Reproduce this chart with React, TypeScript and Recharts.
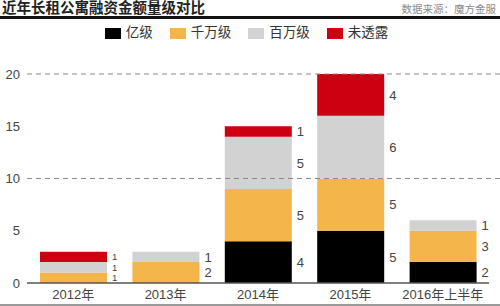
import { BarChart, Bar, XAxis, YAxis, LabelList, ReferenceLine } from "recharts";

const years = ["2012年", "2013年", "2014年", "2015年", "2016年上半年"];
const yi = [0, 0, 4, 5, 2];
const qianwan = [1, 2, 5, 5, 3];
const baiwan = [1, 1, 5, 6, 1];
const weitoulu = [1, 0, 1, 4, 0];
const yTicks = [0, 5, 10, 15, 20];
const gridValues = [10, 20];

const series = [
  { key: "yi", name: "亿级", color: "#000000", values: yi },
  { key: "qianwan", name: "千万级", color: "#F4B54A", values: qianwan },
  { key: "baiwan", name: "百万级", color: "#D2D2D2", values: baiwan },
  { key: "weitoulu", name: "未透露", color: "#CC0010", values: weitoulu },
];

const data = years.map((y, i) => {
  const row: Record<string, any> = { year: y };
  series.forEach((s) => (row[s.key] = s.values[i]));
  // several one-unit segments stacked on each other -> labels need to be smaller
  row.crowded = series.filter((s) => s.values[i] === 1).length > 1;
  return row;
});

const FONT = '"Liberation Sans", Arial, "Noto Sans CJK SC", sans-serif';

// dashed grid, runs past the plot to the right edge like the original
const DashLine = (props: any) => (
  <line
    x1={props.x1}
    y1={props.y1}
    x2={500}
    y2={props.y2}
    stroke="#8a8a8a"
    strokeWidth={1}
    strokeDasharray="5 4"
  />
);

const SegmentLabel = (props: any) => {
  const { x, y, width, height, value } = props;
  if (!value) return null;
  const str = String(value);
  const small = str.endsWith("s");
  return (
    <text
      x={x + width + 5}
      y={y + height / 2}
      dy="0.36em"
      fontSize={small ? 9.5 : 13}
      fill="#444"
      fontFamily={FONT}
    >
      {small ? str.slice(0, -1) : str}
    </text>
  );
};

export default function App() {
  return (
    <div
      style={{
        position: "fixed",
        left: 0,
        top: 0,
        width: 500,
        height: 306,
        background: "#fff",
        fontFamily: FONT,
        overflow: "hidden",
      }}
    >
      <div
        style={{
          position: "absolute",
          left: 2,
          top: 0,
          fontSize: 14.5,
          fontWeight: "bold",
          color: "#222",
          lineHeight: "17px",
        }}
      >
        近年长租公寓融资金额量级对比
      </div>
      <div
        style={{
          position: "absolute",
          right: 4,
          top: 2,
          fontSize: 10.5,
          color: "#8a8a8a",
          lineHeight: "14px",
        }}
      >
        数据来源：魔方金服
      </div>
      <div style={{ position: "absolute", left: 0, top: 16, width: 500, height: 3, background: "#111" }} />
      <div
        style={{
          position: "absolute",
          left: 0,
          top: 25,
          width: 500,
          display: "flex",
          justifyContent: "center",
          paddingLeft: 10,
          boxSizing: "border-box",
        }}
      >
        {series.map((s) => (
          <div key={s.key} style={{ display: "flex", alignItems: "center", marginRight: 17 }}>
            <span style={{ width: 16, height: 11, background: s.color, display: "inline-block", marginRight: 5 }} />
            <span style={{ fontSize: 13.5, color: "#333", lineHeight: "16px" }}>{s.name}</span>
          </div>
        ))}
      </div>
      <div style={{ position: "absolute", left: 0, top: 0 }}>
        <BarChart
          width={500}
          height={306}
          data={data}
          margin={{ top: 74, right: 11, bottom: 0, left: 0 }}
        >
          {gridValues.map((v) => (
            <ReferenceLine key={v} y={v} shape={DashLine} />
          ))}
          <XAxis
            dataKey="year"
            height={23}
            tickLine={false}
            tickSize={0}
            tickMargin={7}
            axisLine={{ stroke: "#555", strokeWidth: 1.5 }}
            tick={{ fontSize: 13, fill: "#444", fontFamily: FONT }}
            interval={0}
          />
          <YAxis
            width={27}
            domain={[0, 20]}
            ticks={yTicks}
            axisLine={false}
            tickLine={false}
            tickSize={0}
            tickMargin={7}
            tick={{ fontSize: 13, fill: "#444", fontFamily: FONT }}
          />
          {series.map((s) => (
            <Bar
              key={s.key}
              dataKey={s.key}
              name={s.name}
              stackId="a"
              fill={s.color}
              barSize={67}
              isAnimationActive={false}
            >
              <LabelList
                dataKey={(row: any) => (row[s.key] ? `${row[s.key]}${row.crowded ? "s" : ""}` : "")}
                content={SegmentLabel}
              />
            </Bar>
          ))}
        </BarChart>
      </div>
      <div style={{ position: "absolute", left: 0, top: 304, width: 500, height: 2, background: "#9a9a9a" }} />
    </div>
  );
}
